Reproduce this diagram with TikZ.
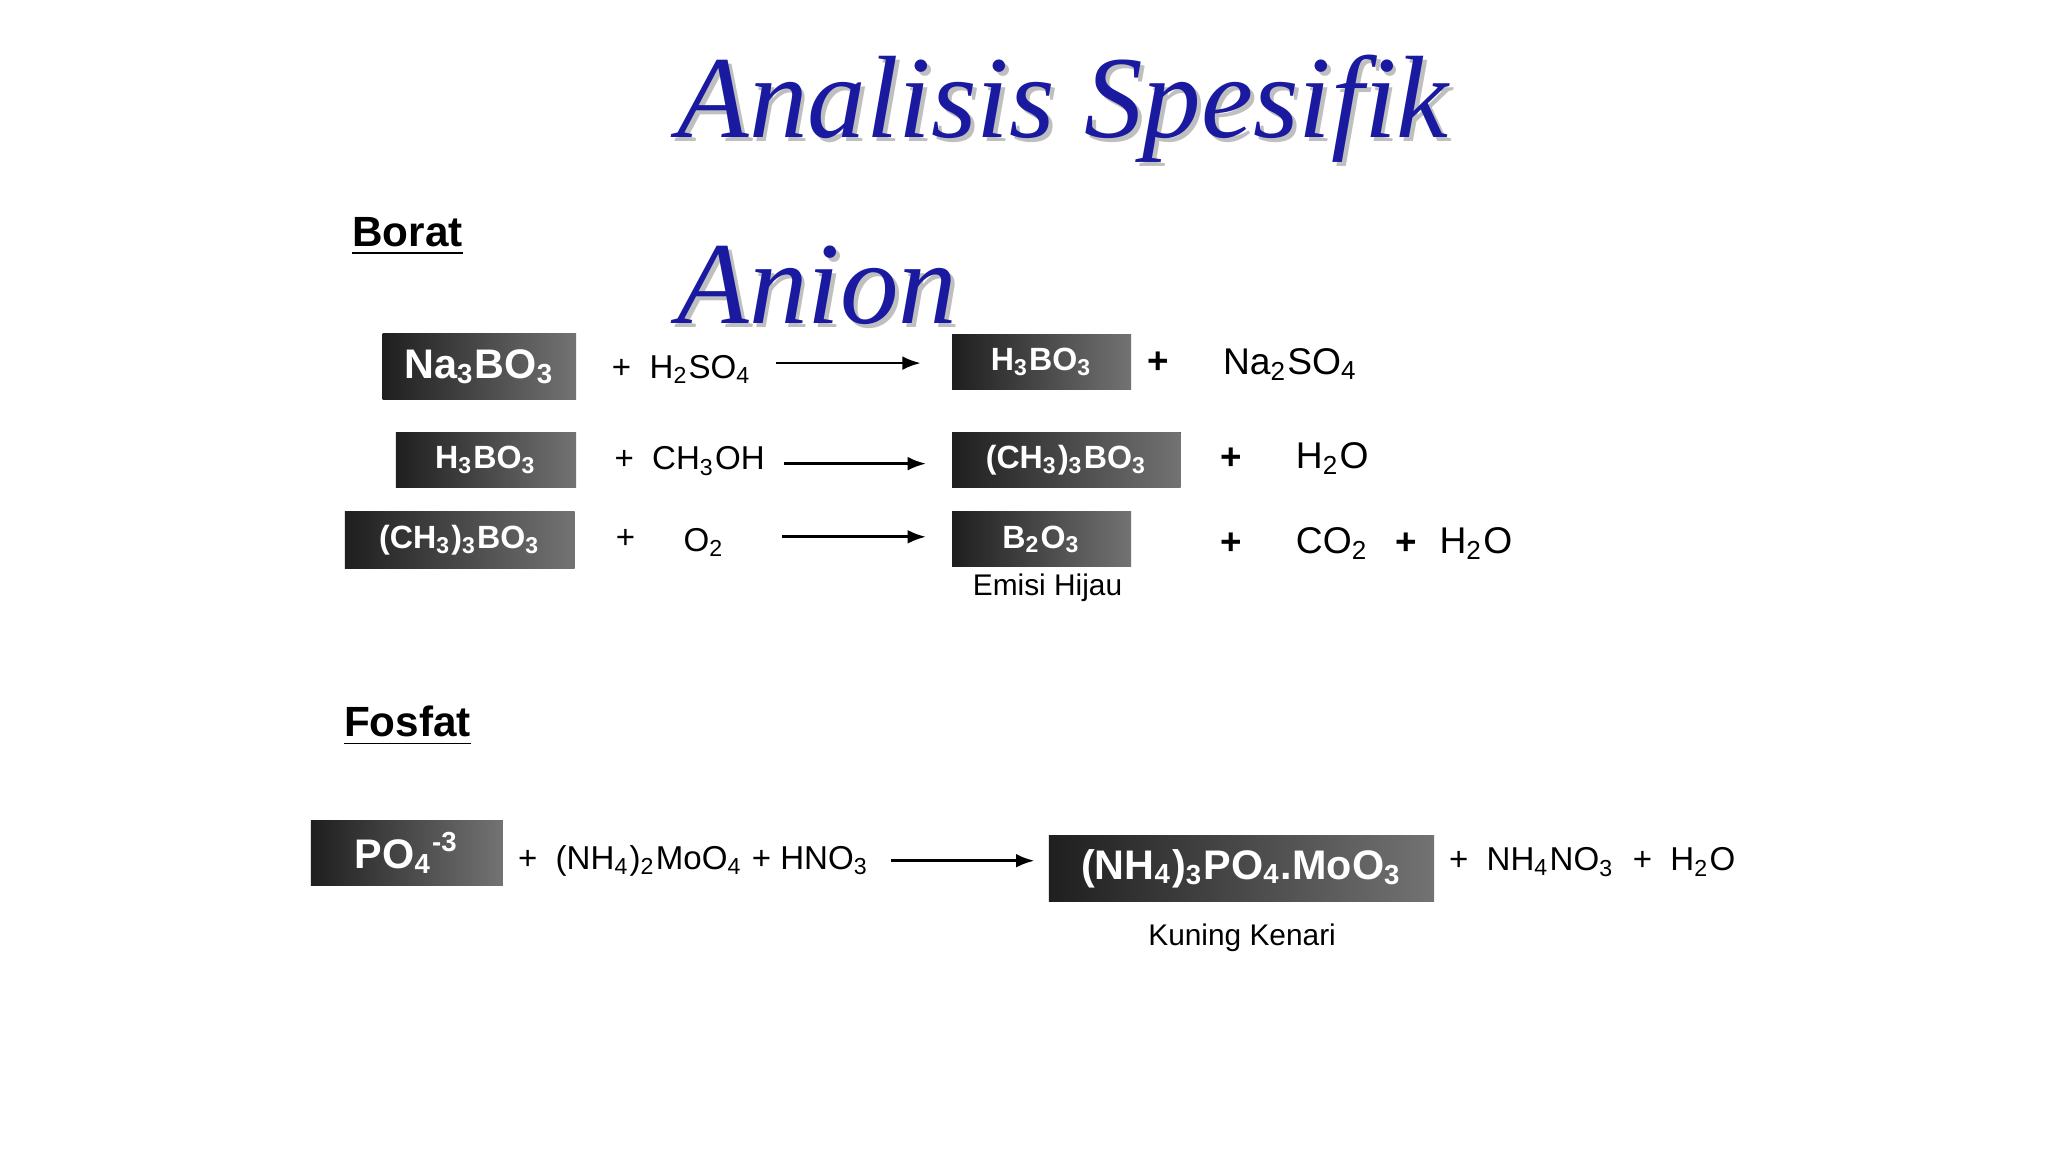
\documentclass[tikz,border=0pt]{standalone}
\usepackage{fontspec}
\setmainfont{Liberation Sans}
\newfontfamily\titlefont{Liberation Serif}
\usetikzlibrary{arrows.meta}
\newcommand{\sub}[1]{\textsubscript{#1}}
\definecolor{ttl}{HTML}{1A1AA0}
\tikzset{
 cfill/.style={left color=black!88, right color=black!55, draw=none},
 btxt/.style={inner sep=0pt, text=white, font=\fontsize{7}{9}\selectfont\bfseries},
 bbig/.style={inner sep=0pt, text=white, font=\fontsize{9}{11}\selectfont\bfseries},
 txt/.style={inner sep=0pt, font=\fontsize{7.2}{9}\selectfont},
 tbig/.style={inner sep=0pt, font=\fontsize{8.1}{10}\selectfont},
 plus/.style={inner sep=0pt, font=\fontsize{8}{10}\selectfont\bfseries},
 small/.style={inner sep=0pt, font=\fontsize{6.5}{8}\selectfont},
 arr/.style={-{Latex[length=4pt,width=3pt]}, line width=0.6pt},
 head/.style={inner sep=0pt, font=\fontsize{9.2}{11}\selectfont\bfseries},
 ttlsh/.style={anchor=base west, inner sep=0pt, text=black!25, font=\titlefont\itshape\fontsize{25.5}{30}\selectfont},
 ttlf/.style={anchor=base west, inner sep=0pt, text=ttl, font=\titlefont\itshape\fontsize{25.5}{30}\selectfont}
}
% \cb{x1}{y1}{x2}{y2}{name}{style}{text}
\newcommand{\cb}[7]{\fill[cfill] (#1,#2) rectangle (#3,#4);
 \node[#6] (#5) at ({(#1+#3)/2},{(#2+#4)/2}) {#7};}
\begin{document}
\begin{tikzpicture}[x=0.01cm,y=-0.01cm]
\useasboundingbox[fill=white] (0,0) rectangle (1568,882);
% title
\node[ttlsh] at (521,108) {Analisis Spesifik};
\node[ttlf] (t1) at (518,105) {Analisis Spesifik};
\node[ttlsh] at (521,251) {Anion};
\node[ttlf] (t2) at (518,248) {Anion};
% Borat
\node[head] (borat) at (312,181) {\underline{Borat}};
% row 1
\cb{293}{255}{441}{306}{a1}{bbig}{Na\sub{3}BO\sub{3}}
\node[txt] (a2) at (522,283) {+\ \ H\sub{2}SO\sub{4}};
\coordinate (r1s) at (594,278); \coordinate (r1e) at (705,278);
\draw[arr] (r1s) -- (r1e);
\cb{729}{256}{866}{298}{a3}{btxt}{H\sub{3}BO\sub{3}}
\node[plus] (a4) at (887,278) {+};
\node[tbig] (a5) at (988,279) {Na\sub{2}SO\sub{4}};
% row 2
\cb{303}{331}{441}{373}{b1}{btxt}{H\sub{3}BO\sub{3}}
\node[txt] (b2) at (528,353) {+\ \ CH\sub{3}OH};
\coordinate (r2s) at (600,355); \coordinate (r2e) at (709,355);
\draw[arr] (r2s) -- (r2e);
\cb{729}{331}{904}{373}{b3}{btxt}{(CH\sub{3})\sub{3}BO\sub{3}}
\node[plus] (b4) at (943,351) {+};
\node[tbig] (b5) at (1020,351) {H\sub{2}O};
% row 3
\cb{264}{392}{440}{435}{c1}{btxt}{(CH\sub{3})\sub{3}BO\sub{3}}
\node[txt] (c2) at (479,413) {+};
\node[txt] (c3) at (539,415) {O\sub{2}};
\coordinate (r3s) at (599,411); \coordinate (r3e) at (709,411);
\draw[arr] (r3s) -- (r3e);
\cb{729}{392}{866}{434}{c4}{btxt}{B\sub{2}O\sub{3}}
\node[small] (c5) at (802,450) {Emisi Hijau};
\node[plus] (c6) at (943,416) {+};
\node[tbig] (c7) at (1020,416) {CO\sub{2}};
\node[plus] (c8) at (1077,416) {+};
\node[tbig] (c9) at (1130,416) {H\sub{2}O};
% Fosfat
\node[head] (fosfat) at (312,556) {\underline{Fosfat}};
\cb{238}{628}{385}{678}{d1}{bbig}{PO\sub{4}\textsuperscript{-3}}
\node[txt] (d2) at (531,659) {+\ \ (NH\sub{4})\sub{2}MoO\sub{4} + HNO\sub{3}};
\coordinate (r4s) at (682,659); \coordinate (r4e) at (792,659);
\draw[arr] (r4s) -- (r4e);
\cb{803}{640}{1098}{690}{d3}{bbig}{(NH\sub{4})\sub{3}PO\sub{4}.MoO\sub{3}}
\node[small] (d4) at (951,718) {Kuning Kenari};
\node[txt] (d5) at (1219,660) {+\ \ NH\sub{4}NO\sub{3}\ \ +\ \ H\sub{2}O};
\end{tikzpicture}
\end{document}
